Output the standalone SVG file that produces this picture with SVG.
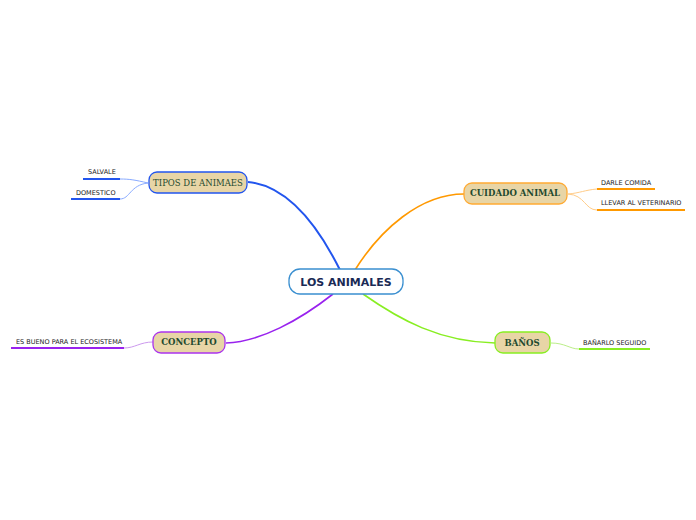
<svg xmlns="http://www.w3.org/2000/svg" width="696" height="520" viewBox="0 0 696 520">
<style>
.b{fill:#e8d5a6;stroke-width:1.3}
.bt{font-family:"DejaVu Serif",serif;font-size:8.5px;font-weight:bold;fill:#1f4a2f;text-anchor:middle}
.lt{font-family:"DejaVu Sans",sans-serif;font-size:6.5px;fill:#222}
.c{fill:none}
</style>
<rect width="696" height="520" fill="#fff"/>
<g id="connectors">
<path class="c" d="M340 270 C320 230 290 186 248 182" stroke="#2255ee" stroke-width="2"/>
<path class="c" d="M355 270 C380 230 420 194 464 194" stroke="#ff9900" stroke-width="1.6"/>
<path class="c" d="M333 294 C300 320 260 342 226 343" stroke="#9922ee" stroke-width="1.6"/>
<path class="c" d="M363 294 C400 320 440 342 495 343" stroke="#88ee22" stroke-width="1.6"/>
<path class="c" d="M148 183 C135 180 130 179 120 179" stroke="#88aaff" stroke-width="1"/>
<path class="c" d="M148 183 C130 185 130 199 120 199" stroke="#88aaff" stroke-width="1"/>
<line x1="83" y1="179" x2="120" y2="179" stroke="#2255ee" stroke-width="2"/>
<line x1="71" y1="199" x2="120" y2="199" stroke="#2255ee" stroke-width="2"/>
<path class="c" d="M568 194 C580 193 585 190 597 189" stroke="#ffcc88" stroke-width="1"/>
<path class="c" d="M568 194 C585 195 585 210 597 210" stroke="#ffcc88" stroke-width="1"/>
<line x1="597" y1="189" x2="655" y2="189" stroke="#ff9900" stroke-width="2"/>
<line x1="597" y1="210" x2="685" y2="210" stroke="#ff9900" stroke-width="2"/>
<path class="c" d="M153 342 C140 342 135 348 124 348" stroke="#cc99ee" stroke-width="1"/>
<line x1="11" y1="348" x2="124" y2="348" stroke="#9922ee" stroke-width="2"/>
<path class="c" d="M551 343 C565 343 570 349 579 349" stroke="#bbee88" stroke-width="1"/>
<line x1="579" y1="349" x2="650" y2="349" stroke="#88ee22" stroke-width="2"/>
</g>
<g id="root"><rect x="289" y="269" width="114" height="25" rx="11" fill="#fff" stroke="#3a8fd0" stroke-width="1.3"/><text x="346" y="286" font-family="DejaVu Sans,sans-serif" font-size="11" font-weight="bold" fill="#1a2a55" text-anchor="middle">LOS ANIMALES</text></g>
<g id="tipos"><rect class="b" x="149" y="172" width="98" height="21" rx="8" stroke="#2255ee"/><text class="bt" x="198" y="186" style="font-weight:normal">TIPOS DE ANIMAES</text></g>
<g id="cuidado"><rect class="b" x="464" y="183" width="103" height="21" rx="8" stroke="#ffaa33"/><text class="bt" x="515" y="196">CUIDADO ANIMAL</text></g>
<g id="concepto"><rect class="b" x="153" y="332" width="72" height="21" rx="8" stroke="#aa33ee"/><text class="bt" x="189" y="345">CONCEPTO</text></g>
<g id="banos"><rect class="b" x="495" y="332" width="55" height="21" rx="8" stroke="#88ee22"/><text class="bt" x="522" y="346">BAÑOS</text></g>
<g id="salvale"><text class="lt" x="88" y="174">SALVALE</text></g>
<g id="domestico"><text class="lt" x="76" y="195">DOMESTICO</text></g>
<g id="darle"><text class="lt" x="601" y="185">DARLE COMIDA</text></g>
<g id="llevar"><text class="lt" x="601" y="205">LLEVAR AL VETERINARIO</text></g>
<g id="es"><text class="lt" x="16" y="344">ES BUENO PARA EL ECOSISTEMA</text></g>
<g id="banarlo"><text class="lt" x="583" y="345">BAÑARLO SEGUIDO</text></g>
</svg>
